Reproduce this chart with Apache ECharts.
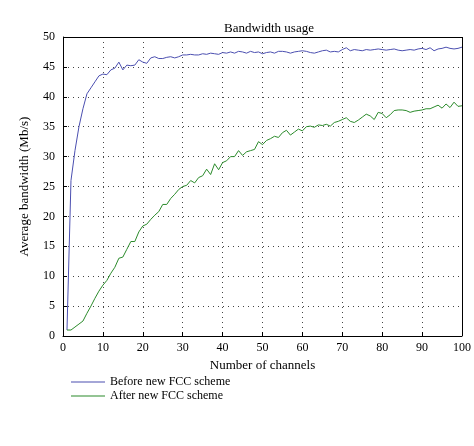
<!DOCTYPE html><html><head><meta charset="utf-8">
<script src="https://cdn.jsdelivr.net/npm/echarts@6/dist/echarts.min.js"></script>
<style>html,body{margin:0;padding:0;background:#fff}#c{width:474px;height:446px}</style></head><body><div id="c"></div>
<script>
const channels = Array.from({length:100},(_,i)=>i+1);
const beforeFCC = [1,26,31,35,38,40.5,41.5,42.5,43.5,43.8,43.7,44.5,44.8,45.8,44.5,45.3,45.2,45.3,46.2,45.8,
45.6,46.5,46.7,46.4,46.4,46.6,46.7,46.5,46.7,47,47,47.1,47,47,47.2,47.1,47.3,47.2,47.1,47.4,
47.3,47.5,47.3,47.6,47.5,47.3,47.6,47.4,47.5,47.2,47.4,47.5,47.3,47.6,47.6,47.5,47.3,47.5,47.6,47.7,
47.6,47.4,47.3,47.5,47.7,47.8,47.5,47.6,47.5,47.9,48.2,47.7,47.9,47.8,47.7,47.9,47.8,47.9,48,47.9,
47.8,47.9,48,47.8,47.7,47.8,47.9,47.8,48,48.1,47.9,48.2,47.7,48,48.1,48.3,48.1,48,48.1,48.3];
const afterFCC = [1,1,1.5,2,2.5,3.8,5,6.3,7.5,8.5,9.3,10.5,11.5,13,13.2,14.5,15.8,15.8,17.4,18.4,
18.7,19.5,20.2,20.8,22,22,23,23.7,24.5,25,25.2,26,25.6,26.5,26.8,27.9,27,28.8,27.8,29,
29.3,30,30,31,30.2,30.8,31,31.2,32.5,32,32.7,33,33.4,33.2,34,34.4,33.6,34.1,34.6,34.3,
35,35.1,34.9,35.3,35.2,35.4,35.1,35.7,35.9,36.2,36.5,35.9,35.7,36.1,36.6,37.1,36.8,36.2,37.4,37.2,
36.5,37,37.7,37.8,37.8,37.7,37.4,37.6,37.7,37.8,38,38,38.3,38.6,38.1,38.8,38.2,39.1,38.4,38.5];
const yTicks=[0,5,10,15,20,25,30,35,40,45,50];
const F='"Liberation Serif", "DejaVu Serif", serif';
const ch=echarts.init(document.getElementById('c'));
const axLine={show:true,lineStyle:{color:'#000',width:1}};
ch.setOption({
 animation:false,
 textStyle:{fontFamily:F},
 title:{text:'Bandwidth usage',left:264,top:17,textAlign:'center',textStyle:{fontFamily:F,fontSize:13,fontWeight:'normal',color:'#000'}},
 grid:{left:63,right:8,top:37,bottom:110,containLabel:false},
 legend:{left:66,top:371,orient:'vertical',itemGap:2,itemWidth:34,itemHeight:8,icon:'path://M0,4L34,4L34,5L0,5Z',
   textStyle:{fontFamily:F,fontSize:12,color:'#000'},data:['Before new FCC scheme','After new FCC scheme']},
 xAxis:{type:'value',min:0,max:100,interval:10,name:'Number of channels',nameLocation:'middle',nameGap:22,
   nameTextStyle:{fontFamily:F,fontSize:13,color:'#000'},
   axisLine:{show:true,onZero:false,lineStyle:{color:'#000'}},axisTick:{inside:true,length:4,lineStyle:{color:'#000'}},
   axisLabel:{fontFamily:F,fontSize:12,color:'#000',margin:6},
   splitLine:{show:true,lineStyle:{color:'#444',type:[1,4],width:1}}},
 yAxis:{type:'value',min:0,max:50,interval:5,name:'Average bandwidth (Mb/s)',nameLocation:'middle',nameGap:32,
   nameTextStyle:{fontFamily:F,fontSize:13,color:'#000'},
   axisLine:{show:true,onZero:false,lineStyle:{color:'#000'}},axisTick:{inside:true,length:4,lineStyle:{color:'#000'}},
   axisLabel:{fontFamily:F,fontSize:12,color:'#000',margin:8},
   splitLine:{show:true,lineStyle:{color:'#444',type:[1,4],width:1}}},
 series:[
  {name:'Before new FCC scheme',type:'line',showSymbol:false,data:channels.map((x,i)=>[x,beforeFCC[i]]),lineStyle:{color:'#4b4fb0',width:1},itemStyle:{color:'#4b4fb0'}},
  {name:'After new FCC scheme',type:'line',showSymbol:false,data:channels.map((x,i)=>[x,afterFCC[i]]),lineStyle:{color:'#2a8a2a',width:1},itemStyle:{color:'#2a8a2a'}},
  {type:'line',data:[],markLine:{silent:true,symbol:'none',label:{show:false},lineStyle:{color:'#000',type:'solid',width:1},
    data:[[{coord:[0,50]},{coord:[100,50]}],[{coord:[100,0]},{coord:[100,50]}]]}}
 ]
});
</script></body></html>
